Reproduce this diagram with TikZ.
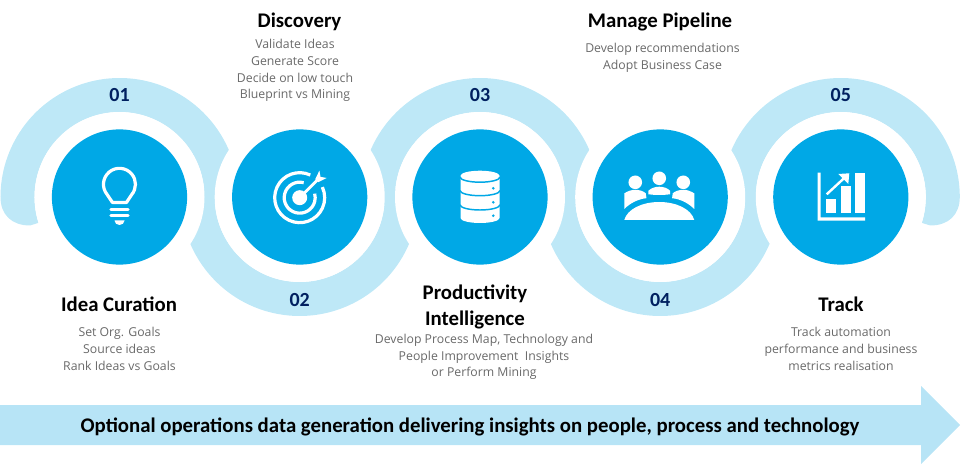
\documentclass[tikz,border=0pt]{standalone}
\usepackage{fontspec}
\setmainfont{Carlito}
\newfontfamily\bodyfont{Open Sans}
\definecolor{discblue}{RGB}{0,168,230}
\definecolor{ringblue}{RGB}{190,232,247}
\definecolor{arrowblue}{RGB}{183,228,246}
\definecolor{numnavy}{RGB}{0,32,96}
\definecolor{bodygrey}{RGB}{105,105,105}
\tikzset{
  stepdisc/.style={circle, fill=discblue, inner sep=0pt, minimum size=101.4pt},
  ringband/.style={draw=ringblue, line width=25.5pt},
  stepnum/.style={font=\fontsize{15}{15}\selectfont\bfseries, text=numnavy},
  stephead/.style={font=\fontsize{15.6}{19}\selectfont\bfseries, align=center},
  steptext/.style={font=\bodyfont\fontsize{9.2}{12.55}\selectfont, text=bodygrey, align=center},
  iconline/.style={draw=white, line width=2.4pt},
  iconfill/.style={fill=white}
}

\begin{document}
\begin{tikzpicture}[x=0.75pt, y=0.75pt]
  \useasboundingbox (0,0) rectangle (961,465);

  % S shaped band
  \fill[ringblue] (119.5,268) +(197.7:85) arc[start angle=197.7, end angle=-5, radius=85]
    -- ++(-5:34) arc[start angle=-5, end angle=180, radius=119]
    .. controls (0.5,250) and (12,239.5) .. (30,239.5) -- cycle;
  \draw[ringband] (299.7,268) +(175:102) arc[start angle=175, end angle=365, radius=102];
  \draw[ringband] (480,268) +(185:102) arc[start angle=185, end angle=-5, radius=102];
  \draw[ringband] (660.2,268) +(175:102) arc[start angle=175, end angle=365, radius=102];
  \fill[ringblue] (840.8,268) +(-17.7:85) arc[start angle=-17.7, end angle=185, radius=85]
    -- ++(185:34) arc[start angle=185, end angle=0, radius=119]
    .. controls (959.8,250) and (948.3,239.5) .. (930.3,239.5) -- cycle;

  % discs
  \foreach \n/\x in {1/119.5, 2/299.7, 3/480, 4/660.2, 5/840.8} {
    \fill[white] (\x,268) circle[radius=85];
    \node[stepdisc] (disc\n) at (\x,268) {};
  }

  % bulb
  \begin{scope}[shift={(disc1.center)}]
    \draw[iconline, line join=round] (-7,-5.5) -- (-12.3,2.4) arc[start angle=220, end angle=-40, radius=16] -- (7,-5.5) -- cycle;
    \draw[iconline, line cap=round] (-8.5,-12.3) -- (8.5,-12.3);
    \draw[iconline, line cap=round] (-8.5,-18.7) -- (8.5,-18.7);
    \fill[iconfill] (-5,-23.5) -- (5,-23.5) arc[start angle=0, end angle=-180, x radius=5, y radius=4.5] -- cycle;
  \end{scope}

  % target
  \begin{scope}[shift={(disc2.center)}, yshift=-0.5pt]
    \draw[iconline] (65:25) arc[start angle=65, end angle=385, radius=25];
    \draw[iconline] (75:15.5) arc[start angle=75, end angle=375, radius=15.5];
    \fill[iconfill] (0,0) circle[radius=7.5];
    \draw[iconline, line width=2pt] (0,0) -- (18,18);
    \fill[iconfill] (15.5,18.5) -- (19.7,27) -- (20.8,20.8) -- (27,19.7) -- (18.5,15.5) -- cycle;
  \end{scope}

  % database
  \begin{scope}[shift={(disc3.center)}]
    \fill[iconfill] (-19.5,21.3) arc[start angle=180, end angle=0, x radius=19.5, y radius=5]
      -- (19.5,-21) arc[start angle=360, end angle=180, x radius=19.5, y radius=5] -- cycle;
    \foreach \y in {20,6.5,-7.8}
      \draw[discblue, line width=1.1pt] (-20,\y) arc[start angle=180, end angle=360, x radius=20, y radius=5.2];
    \foreach \y in {8.7,-5.3,-18.7}
      \fill[discblue] (13.3,\y) circle[radius=1.4];
  \end{scope}

  % meeting
  \begin{scope}[shift={(disc4.center)}, xshift=-0.7pt]
    \foreach \x/\y in {-24/14.7, 0/18.7, 24/14.7}
      \fill[iconfill] (\x,\y) circle[radius=6.8];
    \fill[iconfill] (-35,-23) .. controls (-32,-12) and (-17,-5) .. (0,-5)
      .. controls (17,-5) and (32,-12) .. (35,-23) -- cycle;
    \fill[iconfill] (-35,-12) -- (-35,3.7) .. controls (-31,6) and (-28,7.2) .. (-24,7.2)
      .. controls (-20,7.2) and (-16,6) .. (-13.5,3.7) -- (-12.8,-1.2)
      .. controls (-21,-2) and (-29,-6) .. (-35,-12) -- cycle;
    \fill[iconfill] (35,-12) -- (35,3.7) .. controls (31,6) and (28,7.2) .. (24,7.2)
      .. controls (20,7.2) and (16,6) .. (13.5,3.7) -- (12.8,-1.2)
      .. controls (21,-2) and (29,-6) .. (35,-12) -- cycle;
    \fill[iconfill] (-10.8,2.7) -- (-10.8,6.3) .. controls (-8,9) and (-4,10.3) .. (0,10.3)
      .. controls (4,10.3) and (8,9) .. (10.8,6.3) -- (10.8,2.7)
      .. controls (4,1.8) and (-4,1.8) .. (-10.8,2.7) -- cycle;
  \end{scope}

  % chart
  \begin{scope}[shift={(disc5.center)}]
    \fill[iconfill] (-23.1,24.3) -- (-20.1,24.3) -- (-20.1,-20.3) -- (24.2,-20.3) -- (24.2,-23.7) -- (-23.1,-23.7) -- cycle;
    \fill[iconfill] (-15.1,-15.7) rectangle (-4.8,-2.3);
    \fill[iconfill] (-0.1,-15.7) rectangle (10.2,11);
    \fill[iconfill] (14.2,-15.7) rectangle (24.2,24.3);
    \draw[iconline, line width=1.8pt] (-14.1,2.7) -- (4,19.5);
    \fill[iconfill] (-2.5,23) -- (8.5,23.7) -- (7.5,13) -- cycle;
  \end{scope}

  % numbers
  \node[stepnum] (num1) at (119.5,369.5) {01};
  \node[stepnum] (num2) at (299.7,164.5) {02};
  \node[stepnum] (num3) at (480,369.5) {03};
  \node[stepnum] (num4) at (660.2,164.5) {04};
  \node[stepnum] (num5) at (840.8,369.5) {05};

  % labels
  \node[stephead] (curationhead) at (119,161) {Idea Curation};
  \node[steptext] (curationtext) at (119.5,116) {Set Org. Goals\\Source ideas\\Rank Ideas vs Goals};
  \node[stephead] (discoveryhead) at (299.5,443) {Discovery};
  \node[steptext] (discoverytext) at (295,394.5) {Validate Ideas\\Generate Score\\Decide on low touch\\Blueprint vs Mining};
  \node[stephead] (intelhead) at (475,158) {Productivity\\Intelligence};
  \node[steptext] (inteltext) at (484,108) {Develop Process Map, Technology and\\People Improvement\ \ Insights\\or Perform Mining};
  \node[stephead] (pipelinehead) at (660,443) {Manage Pipeline};
  \node[steptext] (pipelinetext) at (662.5,407.5) {Develop recommendations\\Adopt Business Case};
  \node[stephead] (trackhead) at (841,161) {Track};
  \node[steptext] (tracktext) at (841,116) {Track automation\\performance and business\\metrics realisation};

  % bottom arrow
  \fill[arrowblue] (0,60) -- (921,60) -- (921,79) -- (960,40) -- (921,1) -- (921,20) -- (0,20) -- cycle;
  \node[font=\fontsize{15.6}{15}\selectfont\bfseries] (arrowtext) at (470,38.5)
    {Optional operations data generation delivering insights on people, process and technology};
\end{tikzpicture}
\end{document}
